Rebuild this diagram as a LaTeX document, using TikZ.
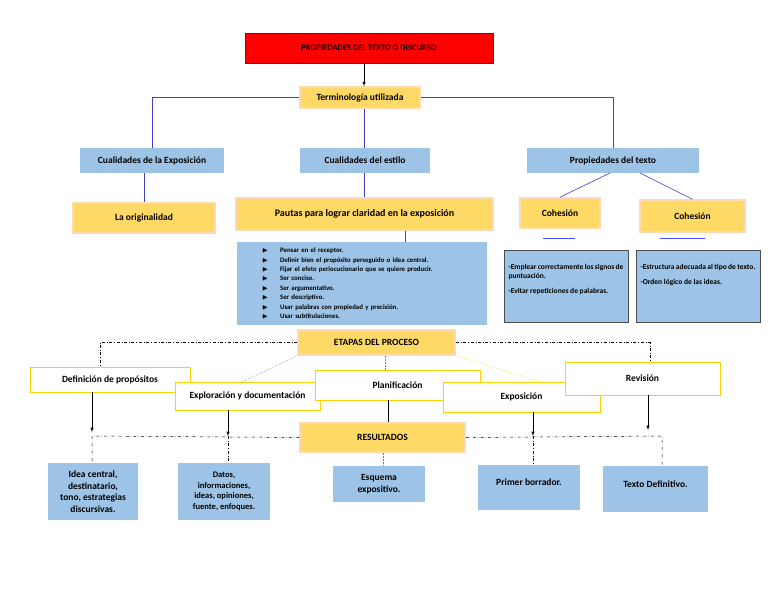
\documentclass[tikz,border=0pt]{standalone}
\usepackage{amssymb}
\usepackage{fontspec}
\setmainfont{Carlito}
\definecolor{bl}{RGB}{157,195,230}
\definecolor{yl}{RGB}{255,217,102}
\begin{document}
\begin{tikzpicture}[x=1pt,y=-1pt,
 box/.style={draw=none,inner sep=2pt,font=\bfseries\fontsize{9.5}{11.5}\selectfont,align=center},
 yel/.style={box,fill=yl,draw=orange!30,line width=1.5pt},
 blu/.style={box,fill=bl},
 wht/.style={box,fill=white,draw=yellow!70!orange,line width=0.8pt},
 ln/.style={draw=blue!50!gray,line width=0.6pt},
 dd/.style={draw=black,dash dot,line width=0.5pt},
 dt/.style={draw=gray,densely dotted,line width=0.5pt},
 arr/.style={-latex,line width=0.5pt}]
\useasboundingbox (0,0) rectangle (768,594);
\fill[white] (0,0) rectangle (768,594);
\newcommand{\bx}[6]{\node[#1,minimum width=#4-#2,minimum height=#5-#3] (#6) at ({(#2+#4)/2},{(#3+#5)/2})}
\bx{box,fill=red,draw=red!60!black,font=\bfseries\fontsize{8.5}{10}\selectfont}{245}{33}{493}{63}{title} {PROPIEDADES DEL TEXTO O DISCURSO};
\bx{yel}{300}{87}{420}{108}{term} {Terminología utilizada};
\bx{blu}{80}{148}{224}{173}{ce} {Cualidades de la Exposición};
\bx{blu}{300}{148}{430}{173}{cs} {Cualidades del estilo};
\bx{blu}{527}{148}{699}{173}{pt} {Propiedades del texto};
\bx{yel}{73}{203}{215}{233}{orig} {La originalidad};
\bx{yel,font=\bfseries\fontsize{10}{12}\selectfont}{236}{198}{493}{230}{paut} {Pautas para lograr claridad en la exposición};
\bx{yel}{520}{198}{600}{228}{coh1} {Cohesión};
\bx{yel}{640}{200}{745}{232}{coh2} {Cohesión};
\bx{blu,align=left,font=\bfseries\fontsize{6.8}{9.4}\selectfont,text width=200pt}{237}{242}{487}{325}{list} {%
$\blacktriangleright$\hspace{12pt}Pensar en el receptor.\\
$\blacktriangleright$\hspace{12pt}Definir bien el propósito perseguido o idea central.\\
$\blacktriangleright$\hspace{12pt}Fijar el efeto periocucionario que se quiere producir.\\
$\blacktriangleright$\hspace{12pt}Ser conciso.\\
$\blacktriangleright$\hspace{12pt}Ser argumentativo.\\
$\blacktriangleright$\hspace{12pt}Ser descriptivo.\\
$\blacktriangleright$\hspace{12pt}Usar palabras con propiedad y precisión.\\
$\blacktriangleright$\hspace{12pt}Usar subtitulaciones.};
\bx{blu,draw=black!70,line width=0.8pt,align=justify,text width=115pt,font=\bfseries\fontsize{7.5}{9}\selectfont}{504}{250}{628}{322}{b1} {-Emplear correctamente los signos de puntuación.\\[6pt]-Evitar repeticiones de palabras.\vspace{14pt}};
\bx{blu,draw=black!70,line width=0.8pt,align=justify,text width=115pt,font=\bfseries\fontsize{7.5}{9}\selectfont}{636}{250}{760}{322}{b2} {-Estructura adecuada al tipo de texto.\\[6pt]-Orden lógico de las ideas.\vspace{22pt}};
\bx{yel}{298}{330}{455}{355}{etapas} {ETAPAS DEL PROCESO};
\bx{wht}{30}{367}{190}{392}{def} {Definición de propósitos};
\bx{wht}{175}{382}{320}{410}{exp} {Exploración y documentación};
\bx{wht}{315}{370}{480}{400}{plan} {Planificación};
\bx{wht}{443}{382}{600}{412}{expo} {Exposición};
\bx{wht}{565}{362}{720}{395}{rev} {Revisión};
\bx{yel}{300}{423}{465}{452}{res} {RESULTADOS};
\bx{blu}{48}{463}{138}{520}{r1} {Idea central,\\destinatario,\\tono, estrategias\\discursivas.};
\bx{blu,font=\bfseries\fontsize{8.5}{10.5}\selectfont}{178}{463}{270}{520}{r2} {Datos,\\informaciones,\\ideas, opiniones,\\fuente, enfoques.};
\bx{blu}{333}{466}{425}{502}{r3} {Esquema\\expositivo.};
\bx{blu}{478}{465}{580}{510}{r4} {\raisebox{10pt}{Primer borrador.}};
\bx{blu}{603}{466}{708}{512}{r5} {\raisebox{10pt}{Texto Definitivo.}};
% connectors
\draw[arr] (title.south -| 364,0) -- (term.north -| 364,0);
\draw[ln] (term.west) -| (ce.north);
\draw[ln] (term.south -| 364,0) -- (cs.north -| 364,0);
\draw[ln] (term.east) -| (pt.north);
\draw[ln] (ce.south -| orig.north) -- (orig.north);
\draw[ln] (cs.south -| 364,0) -- (paut.north -| 364,0);
\draw[ln] (paut.south -| 405,0) -- (list.north -| 405,0);
\draw[ln] (610,173) -- (coh1.north);
\draw[ln] (640,173) -- (coh2.north);
\draw[ln,blue!70] (543,238) -- (575,238);
\draw[ln,blue!70] (660,238) -- (705,238);
\draw[dd] (etapas.west) -| (def.north -| 100,0);
\draw[dd] (etapas.east) -| (rev.north -| 650,0);
\draw[dt] (etapas.south west) -- (240,383);
\draw[dt] (etapas.south -| 385,0) -- (plan.north -| 385,0);
\draw[dt,yellow!70!orange] (etapas.south east) -- (545,383);
\draw[arr] (def.south -| 92,0) -- (92,432);
\draw[arr] (exp.south -| 228,0) -- (228,436);
\draw[line width=0.5pt] (plan.south -| 388,0) -- (res.north -| 388,0);
\draw[arr] (expo.south -| 533,0) -- (533,436);
\draw[arr] (rev.south -| 648,0) -- (648,430);
\draw[dd] (res.west) -- (92,436) -- (r1.north -| 92,0);
\draw[dd] (228,436) -- (r2.north -| 228,0);
\draw[dd] (res.east) -- (662,436) -- (r5.north -| 662,0);
\draw[dd] (533,436) -- (r4.north -| 533,0);
\draw[dt] (res.south -| 383,0) -- (r3.north -| 383,0);
\end{tikzpicture}
\end{document}
